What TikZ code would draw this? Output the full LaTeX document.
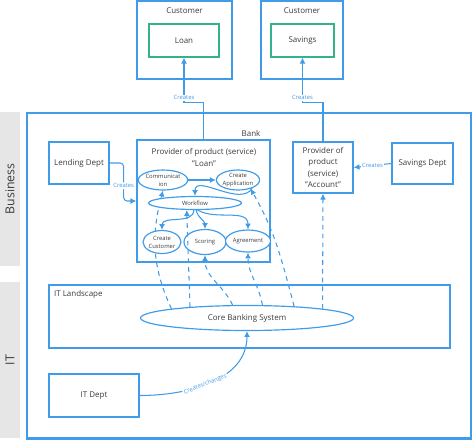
\documentclass[tikz,border=0pt]{standalone}
\usepackage{fontspec}
\setmainfont{Open Sans}
\usetikzlibrary{shapes.geometric,arrows.meta}
\definecolor{lineblue}{RGB}{64,155,232}
\definecolor{boxgreen}{RGB}{52,178,140}
\definecolor{bandgray}{RGB}{230,230,230}
\definecolor{txtgray}{RGB}{60,60,60}
\begin{document}
\begin{tikzpicture}[x=0.03cm, y=-0.03cm,
    every node/.style={font=\fontsize{6.8}{9.8}\selectfont, text=txtgray, align=center},
    box/.style={draw=lineblue, line width=1.1pt, fill=white, inner sep=0pt},
    prodbox/.style={draw=boxgreen, line width=1.1pt, inner sep=0pt},
    band/.style={fill=bandgray, inner sep=0pt, rotate=90, minimum height=0.6cm, font=\fontsize{10.5}{12}\selectfont},
    proc/.style={ellipse, draw=lineblue, line width=1pt, fill=white, inner sep=0pt, font=\fontsize{5}{6.8}\selectfont},
    flow/.style={draw=lineblue, line width=0.9pt, -{Latex[length=5pt,width=5pt]}},
    dep/.style={flow, dash pattern=on 4pt off 3.5pt},
    lbl/.style={fill=white, inner sep=1pt, text=lineblue, font=\fontsize{5}{6}\selectfont}]
    \useasboundingbox (0,0) rectangle (474,440);
    % Layers
    \node[band, minimum width=4.62cm] (busband) at (10,189) {Business};
    \node[band, minimum width=4.68cm] (itband) at (10,360) {IT};
    \node[box, fill=none, minimum width=13.32cm, minimum height=9.75cm] (bankarea) at (249,275.5) {};
    \draw[lineblue, line width=2pt] (bankarea.south west) -- (bankarea.south east);
    \node (banklbl) at (251,134) {Bank};
    % Customers
    \node[box, minimum width=2.85cm, minimum height=2.34cm] (cust1) at (184.5,40) {};
    \node (cust1lbl) at (184.5,11) {Customer};
    \node[prodbox, minimum width=2.1cm, minimum height=0.99cm] (loan) at (184,40.5) {Loan};
    \node[box, minimum width=2.46cm, minimum height=2.34cm] (cust2) at (302,40) {};
    \node (cust2lbl) at (302,11) {Customer};
    \node[prodbox, minimum width=1.89cm, minimum height=0.99cm] (savings) at (302.5,40.5) {Savings};
    % Business
    \node[box, minimum width=3.99cm, minimum height=3.66cm] (prov) at (203.5,201) {};
    \node (provlbl) at (204,157.5) {Provider of product (service)\\"Loan"};
    \node[box, minimum width=1.8cm, minimum height=1.53cm] (acct) at (323,167.5) {Provider of\\product\\(service)\\"Account"};
    \node[box, minimum width=1.8cm, minimum height=1.26cm] (lend) at (79,163) {Lending Dept};
    \node[box, minimum width=1.83cm, minimum height=1.23cm] (sav) at (422.5,163.5) {Savings Dept};
    % IT
    \node[box, fill=none, minimum width=12.03cm, minimum height=1.89cm] (itland) at (249.5,316.5) {};
    \node[anchor=west] (itlandlbl) at (50,294) {IT Landscape};
    \node[proc, font=\fontsize{6.8}{9.8}\selectfont, minimum width=6.39cm, minimum height=0.75cm] (cbs) at (247,318) {Core Banking System};
    \node[box, minimum width=2.7cm, minimum height=1.29cm] (itd) at (94,395.5) {IT Dept};
    % Processes
    \node[proc, minimum width=1.44cm, minimum height=0.6cm] (comm) at (163,180) {Communicat\\ion};
    \node[proc, minimum width=1.29cm, minimum height=0.6cm] (capp) at (238,180) {Create\\Application};
    \draw[dep] (cbs.173) to[out=115, in=-105] (comm.south);
    \node[proc, minimum width=2.79cm, minimum height=0.39cm] (wf) at (195,203) {Workflow};
    \node[proc, minimum width=1.14cm, minimum height=0.69cm] (ccust) at (162,242) {Create\\Customer};
    \node[proc, minimum width=1.26cm, minimum height=0.75cm] (scor) at (205,242) {Scoring};
    \node[proc, minimum width=1.35cm, minimum height=0.66cm] (agr) at (248,241) {Agreement};
    % Connectors
    \draw[flow] (prov.north) -- ++(0,-37) -| node[lbl, pos=0.55] {Creates} (loan.south);
    \draw[flow] (acct.north) -- ++(0,-39) -| node[lbl, pos=0.55] {Creates} (savings.south);
    \draw[flow, rounded corners=3pt] (lend.east) -- ++(14,0) |- node[lbl, pos=0.3] {Creates} (prov.west);
    \draw[flow] (sav.west) -- node[lbl] {Creates} (acct.east);
    \draw[flow] (itd.east) to[out=0, in=-90] node[lbl, sloped, pos=0.45] {Creates/changes} (cbs.south);
    \draw[flow] (comm.east) -- (capp.west);
    \draw[flow] (capp.-30) to[out=-120, in=90] (wf.north);
    \draw[flow] (wf.-100) to[out=-90, in=90] (ccust.north);
    \draw[flow] (wf.-80) to[out=-80, in=90] (scor.north);
    \draw[flow] (wf.-70) to[out=-30, in=90] (agr.north);
    \draw[dep] (cbs.169) -- (wf.-140);
    \draw[dep] (cbs.138) to[out=115, in=-90] (scor.south);
    \draw[dep] (cbs.40) to[out=100, in=-90] (agr.south);
    \draw[dep] (cbs.14) to[out=105, in=-60] (capp.-35);
    \draw[dep] (cbs.7.5) -- (acct.south);
\end{tikzpicture}
\end{document}
